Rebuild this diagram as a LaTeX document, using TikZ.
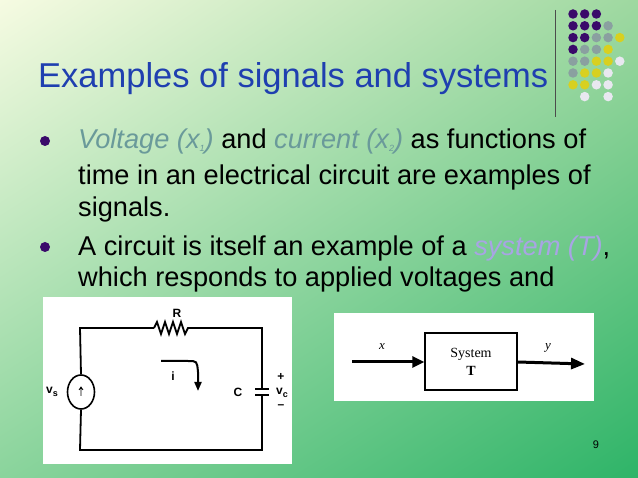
\documentclass[tikz,border=0pt]{standalone}
\usepackage{fontspec}
\setmainfont{Liberation Sans}
\newfontfamily\serifx{Liberation Serif}
\usetikzlibrary{arrows.meta,shadings,shapes.geometric}
\definecolor{ttl}{HTML}{1F3FB0}
\definecolor{gv}{HTML}{6A9A9A}
\definecolor{lav}{HTML}{A8A4E4}
\definecolor{dp}{HTML}{3A0A6A}
\definecolor{P}{HTML}{3A0A6A}
\definecolor{G}{HTML}{8AA0A0}
\definecolor{Y}{HTML}{D8D020}
\definecolor{W}{HTML}{E8E8F0}
\definecolor{cul}{HTML}{F6FBE2}
\definecolor{cur}{HTML}{9ED8A0}
\definecolor{cll}{HTML}{8AD49C}
\definecolor{clr}{HTML}{2EB468}
\tikzset{
 body/.style={anchor=base west,inner sep=0,font=\fontsize{27.2}{30}\selectfont},
 bul/.style={circle,fill=dp,inner sep=0,minimum size=10pt},
 wire/.style={line width=1.8pt},
 dot/.style={circle,inner sep=0,minimum size=9.5pt},
 lbl/.style={inner sep=0,font=\fontsize{12}{12}\selectfont\bfseries},
}
\newcommand{\subs}[1]{\raisebox{-3pt}{\fontsize{9}{9}\selectfont #1}}
\begin{document}
\begin{tikzpicture}[x=1pt,y=-1pt]
\useasboundingbox (0,0) rectangle (638,478);
\shade[upper left=cul,upper right=cur,lower left=cll,lower right=clr] (0,0) rectangle (638,478);
\draw[line width=1pt,black!70] (555,10) -- (555,117);
\foreach \row [count=\r from 0] in {{P,P,P,N,N},{P,P,P,G,N},{P,P,G,G,Y},{P,G,G,Y,N},{G,G,Y,Y,W},{G,Y,Y,W,N},{Y,Y,W,W,N},{N,W,N,W,N}}{
 \foreach \c [count=\k from 0] in \row {
  \if N\c\else
   \node[dot,fill=\c] (d\r\k) at (573+11.7*\k,14+11.8*\r) {};
  \fi
 }}
\node[anchor=base west,inner sep=0,text=ttl,font=\fontsize{34.5}{36}\selectfont] (title) at (38,88) {Examples of signals and systems};
\node[bul] (b1) at (45,141) {};
\node[bul] (b2) at (45,247) {};
\node[body] (l1) at (78,149) {\textcolor{gv}{\itshape Voltage (x\subs{1})} and \textcolor{gv}{\itshape current (x\subs{2})} as functions of};
\node[body] (l2) at (78,185) {time in an electrical circuit are examples of};
\node[body] (l3) at (78,217) {signals.};
\node[body] (l4) at (78,256) {A circuit is itself an example of a \textcolor{lav}{\itshape system (T)},};
\node[body] (l5) at (78,287) {which responds to applied voltages and};
\fill[white] (43,297) rectangle (292,464);
\coordinate (tl) at (80,328);
\coordinate (tr) at (262,328);
\coordinate (bl) at (80,450);
\coordinate (br) at (262,450);
\coordinate (r1) at (154,328);
\coordinate (r2) at (190,328);
\node[draw,line width=1.6pt,ellipse,minimum width=27pt,minimum height=34pt,inner sep=0] (vs) at (81,392) {};
\draw[wire] (vs.north) -- (tl) -- (r1);
\draw[wire] (r1) -- ++(3,-6) -- ++(4,12) -- ++(4,-12) -- ++(4,12) -- ++(4,-12) -- ++(4,12) -- ++(4,-12) -- ++(4,12) -- ++(3,-6) -- (r2);
\draw[wire] (r2) -- (tr) -- (262,389);
\draw[wire] (255,389) -- (269,389);
\draw[wire] (255,395) -- (269,395);
\draw[wire] (262,395) -- (br) -- (bl) -- (vs.south);
\draw[line width=0.8pt] (81,388) -- (81,396) (79,390) -- (81,387) -- (83,390);
\node[lbl] (Rl) at (177,313) {R};
\node[lbl] (vsl) at (52,392) {v\subs{s}};
\node[lbl] (Cl) at (238,392) {C};
\node[lbl] (vcl) at (282,393) {v\subs{c}};
\node[lbl] (pl) at (281,377) {+};
\node[lbl] (ml) at (281,407) {--};
\node[lbl] (il) at (173,376) {i};
\coordinate (ia) at (161,361);
\draw[line width=2pt,-{Triangle[length=9pt,width=7pt]}] (ia) -- (188,361) .. controls (197,361) .. (198,372) -- (198,391);
\fill[white] (334,313) rectangle (594,401);
\node[draw,line width=1.4pt,minimum width=92pt,minimum height=57pt,inner sep=0,align=center,font=\serifx\fontsize{14}{18}\selectfont] (sys) at (471,361.5) {System\\\textbf{T}};
\coordinate (xin) at (352,362);
\coordinate (yout) at (585,364);
\draw[line width=3pt,-{Triangle[length=12pt,width=11pt]}] (xin) -- (sys.west |- xin);
\draw[line width=3pt,-{Triangle[length=14pt,width=11pt]}] (sys.east |- xin) -- (yout);
\node[inner sep=0,font=\serifx\itshape\fontsize{13}{13}\selectfont] (xl) at (382,347) {x};
\node[inner sep=0,font=\serifx\itshape\fontsize{13}{13}\selectfont] (yl) at (548,348) {y};
\node[inner sep=0,font=\fontsize{11}{12}\selectfont] (pg) at (596,445) {9};
\end{tikzpicture}
\end{document}
